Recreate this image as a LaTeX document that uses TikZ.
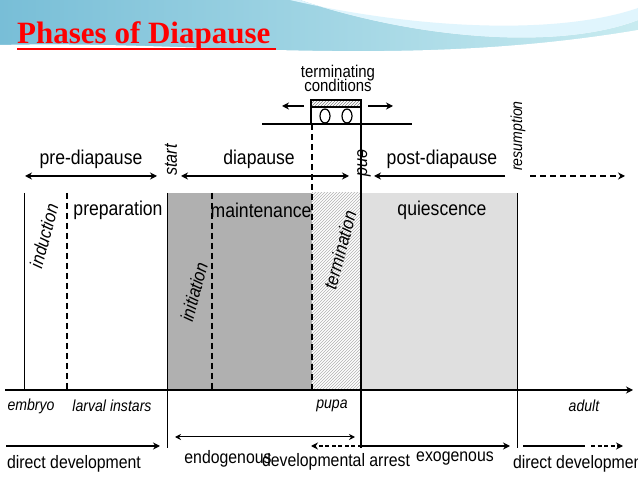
\documentclass[tikz,border=0pt]{standalone}
\usepackage{fontspec}
\setmainfont{Liberation Sans}[FakeStretch=0.88]
\newfontfamily\titlefont{Liberation Serif}
\usetikzlibrary{patterns,arrows.meta}
\begin{document}
\begin{tikzpicture}[x=1pt,y=-1pt,
  lbl/.style={font=\fontsize{20}{20}\selectfont,inner sep=1pt},
  ilbl/.style={font=\fontsize{16}{17}\selectfont\itshape,inner sep=1pt},
  rlbl/.style={font=\fontsize{18.5}{19}\selectfont\itshape,inner sep=1pt},
  arr/.style={line width=1.6pt,-{Stealth[length=7pt,width=7pt]}},
  darr/.style={line width=1.6pt,{Stealth[length=7pt,width=7pt]}-{Stealth[length=7pt,width=7pt]}},
  thin2/.style={line width=1pt},
  dsh/.style={line width=1.6pt,dash pattern=on 6pt off 4pt}]
\useasboundingbox (0,0) rectangle (638,478);
\fill[white] (0,0) rectangle (638,478);
% header
\shade[left color={rgb,255:red,120;green,190;blue,215}, right color={rgb,255:red,200;green,235;blue,240}] (0,0) rectangle (638,57);
\fill[white] (300,0) .. controls (420,40) and (560,50) .. (638,20) -- (638,57) -- (0,57) -- (0,45) .. controls (200,40) and (400,70) .. (638,30) -- (638,0) -- cycle;
\fill[white!60!cyan!30] (290,0) .. controls (420,30) and (560,35) .. (638,8) -- (638,20) .. controls (560,50) and (420,40) .. (300,0) -- cycle;
\node[anchor=base west,inner sep=0,text=red,font=\titlefont\bfseries\fontsize{31}{34}\selectfont] (title) at (17,44) {Phases of Diapause};
\draw[red,line width=1.8pt] (17,49) -- (276,49);
% regions
\fill[gray!62] (167,193) rectangle (312,390);
\fill[gray!25] (361,193) rectangle (517,390);
\fill[pattern=north east lines,pattern color=gray!60] (312,193) rectangle (361,390);
\draw[thin2] (24,193) -- (24,390);
\draw[dsh] (67,193) -- (67,390);
\draw[dsh] (212,193) -- (212,390);
\draw[dsh] (312,124) -- (312,390);
\draw[thin2] (167,193) -- (167,448);
\draw[line width=1.6pt] (361,124) -- (361,448);
\draw[thin2] (517,193) -- (517,448);
\draw[arr] (5,390) -- (633,390);
% top apparatus
\node[lbl,align=center,font=\fontsize{17}{17}\selectfont] (tc) at (338,78) {terminating\\[-3pt]conditions};
\fill[pattern=north east lines,pattern color=gray] (311,100) rectangle (361,107);
\draw[line width=1.3pt] (311,100) rectangle (361,107);
\draw[line width=1.3pt] (311,107) -- (311,124) (361,107) -- (361,124);
\draw[line width=1.2pt] (325,116) ellipse (5 and 7);
\draw[line width=1.2pt] (347,116) ellipse (5 and 7);
\draw[line width=1.6pt] (262,124) -- (412,124);
\draw[arr] (304,106) -- (282,106);
\draw[arr] (368,106) -- (393,106);
% phase labels
\node[lbl] (pre) at (91,159) {pre-diapause};
\draw[darr] (25,176) -- (157,176);
\node[rlbl,rotate=90] (start) at (171,160) {start};
\node[lbl] (dia) at (259,159) {diapause};
\draw[darr] (181,176) -- (349,176);
\node[rlbl,rotate=-90] (end) at (364,163) {end};
\node[lbl] (post) at (442,159) {post-diapause};
\draw[arr] (505,176) -- (374,176);
\node[ilbl,rotate=90] (res) at (518,136) {resumption};
\draw[dsh,-{Stealth[length=7pt,width=7pt]}] (530,176) -- (625,176);
% region labels
\node[rlbl,rotate=75] (ind) at (44,236) {induction};
\node[lbl] (prep) at (118,210) {preparation};
\node[lbl] (maint) at (261,210) {maintenance};
\node[rlbl,rotate=75] (init) at (194,292) {initiation};
\node[rlbl,rotate=75] (term) at (340,250) {termination};
\node[lbl] (qui) at (442,210) {quiescence};
% axis labels
\node[ilbl] (emb) at (31,406) {embryo};
\node[ilbl] (lar) at (112,406) {larval instars};
\node[ilbl] (pupa) at (332,406) {pupa};
\node[ilbl] (adult) at (584,406) {adult};
% bottom arrows
\draw[line width=1pt,{Stealth[length=6pt,width=6pt]}-{Stealth[length=6pt,width=6pt]}] (175,437) -- (355,437);
\draw[arr] (6,446) -- (160,446);
\draw[line width=1.6pt,dash pattern=on 4pt off 2.5pt,-{Stealth[length=7pt,width=7pt]}] (355,446) -- (311,446);
\draw[arr] (358,446) -- (510,446);
\draw[line width=1.6pt] (523,446) -- (585,446);
\draw[line width=1.6pt,dash pattern=on 4pt off 2.5pt,-{Stealth[length=7pt,width=7pt]}] (591,446) -- (623,446);
\node[lbl,font=\fontsize{18}{18}\selectfont] (dd1) at (74,464) {direct development};
\node[lbl,font=\fontsize{18}{18}\selectfont] (endo) at (228,459) {endogenous};
\node[lbl,font=\fontsize{18}{18}\selectfont] (arrest) at (336,462) {developmental arrest};
\node[lbl,font=\fontsize{18}{18}\selectfont] (exo) at (455,459) {exogenous};
\node[lbl,font=\fontsize{18}{18}\selectfont] (dd2) at (580,464) {direct development};
\end{tikzpicture}
\end{document}
